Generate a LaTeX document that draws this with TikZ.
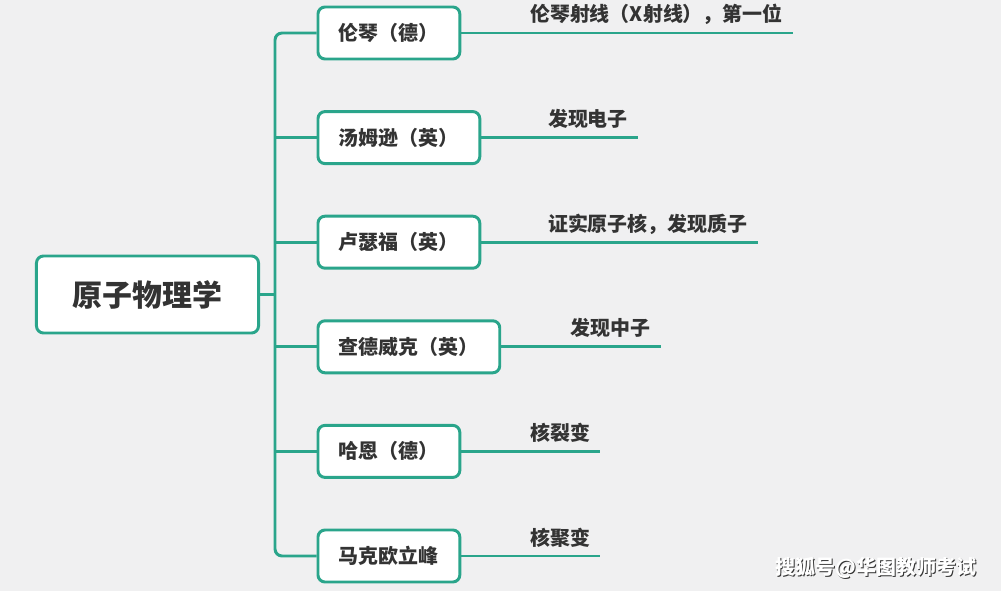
\documentclass[tikz,border=0pt]{standalone}
\usepackage{fontspec}
\setmainfont{Noto Sans CJK SC}
\usetikzlibrary{calc}
\definecolor{mindteal}{RGB}{42,165,139}
\definecolor{paperbg}{RGB}{240,240,241}
\definecolor{inkgray}{RGB}{51,51,51}
\tikzset{
  root/.style={
    draw=mindteal,
    line width=2.1pt,
    fill=white,
    rounded corners=5pt,
    minimum width=5.55cm,
    minimum height=1.925cm,
    inner sep=0pt,
    text=inkgray,
    font=\fontsize{21.3}{25}\selectfont\bfseries
  },
  person/.style={
    draw=mindteal,
    line width=2.1pt,
    fill=white,
    rounded corners=5pt,
    minimum height=1.3cm,
    inner xsep=0.525cm,
    inner ysep=0pt,
    anchor=west,
    text=inkgray,
    font=\fontsize{14.2}{17}\selectfont\bfseries
  },
  fact/.style={
    anchor=base west,
    inner sep=0pt,
    text=inkgray,
    font=\fontsize{14.2}{17}\selectfont\bfseries
  },
  branch/.style={
    draw=mindteal,
    line width=2.1pt
  },
  stamp/.style={
    inner sep=0pt,
    font=\fontsize{14.2}{17}\selectfont\bfseries
  }
}
\begin{document}
\begin{tikzpicture}[x=0.025cm,y=-0.025cm]
\fill[paperbg] (0,0) rectangle (1001,591);
\useasboundingbox (0,0) rectangle (1001,591);
% centre and people
\node[root] (atom) at (147.5,294.5) {原子物理学};
\node[person] (c1) at (316.5,33) {伦琴（德）};
\node[person] (c2) at (316.5,137.6) {汤姆逊（英）};
\node[person] (c3) at (316.5,242.2) {卢瑟福（英）};
\node[person] (c4) at (316.5,346.8) {查德威克（英）};
\node[person] (c5) at (316.5,451.4) {哈恩（德）};
\node[person] (c6) at (316.5,556) {马克欧立峰};
% what they found
\node[fact] (f1) at ($(c1.east)+(68.5,-11)$) {伦琴射线（X射线），第一位};
\node[fact] (f2) at ($(c2.east)+(66.5,-11)$) {发现电子};
\node[fact] (f3) at ($(c3.east)+(66.5,-11)$) {证实原子核，发现质子};
\node[fact] (f4) at ($(c4.east)+(69,-11)$) {发现中子};
\node[fact] (f5) at ($(c5.east)+(68.5,-11)$) {核裂变};
\node[fact] (f6) at ($(c6.east)+(68.5,-11)$) {核聚变};
\foreach \i in {1,...,6}
  \coordinate (e\i) at ($(f\i.east |- c\i.east)+(10,0)$);
% trunk
\coordinate (tk) at (275,0);
\draw[branch] (atom.east) -- (atom.east -| tk);
\draw[branch,rounded corners=5pt] (c1.west) -- (c1.west -| tk) -- (c6.west -| tk) -- (c6.west);
\foreach \i in {2,...,5}
  \draw[branch] (c\i.west -| tk) -- (c\i.west);
\foreach \i in {1,...,6}
  \draw[branch] (c\i.east) -- (e\i);
% watermark
\node[stamp,text=black!80] (wms) at (877,569) {搜狐号@华图教师考试};
\node[stamp,text=white] (wm) at (876,568) {搜狐号@华图教师考试};
\end{tikzpicture}
\end{document}
